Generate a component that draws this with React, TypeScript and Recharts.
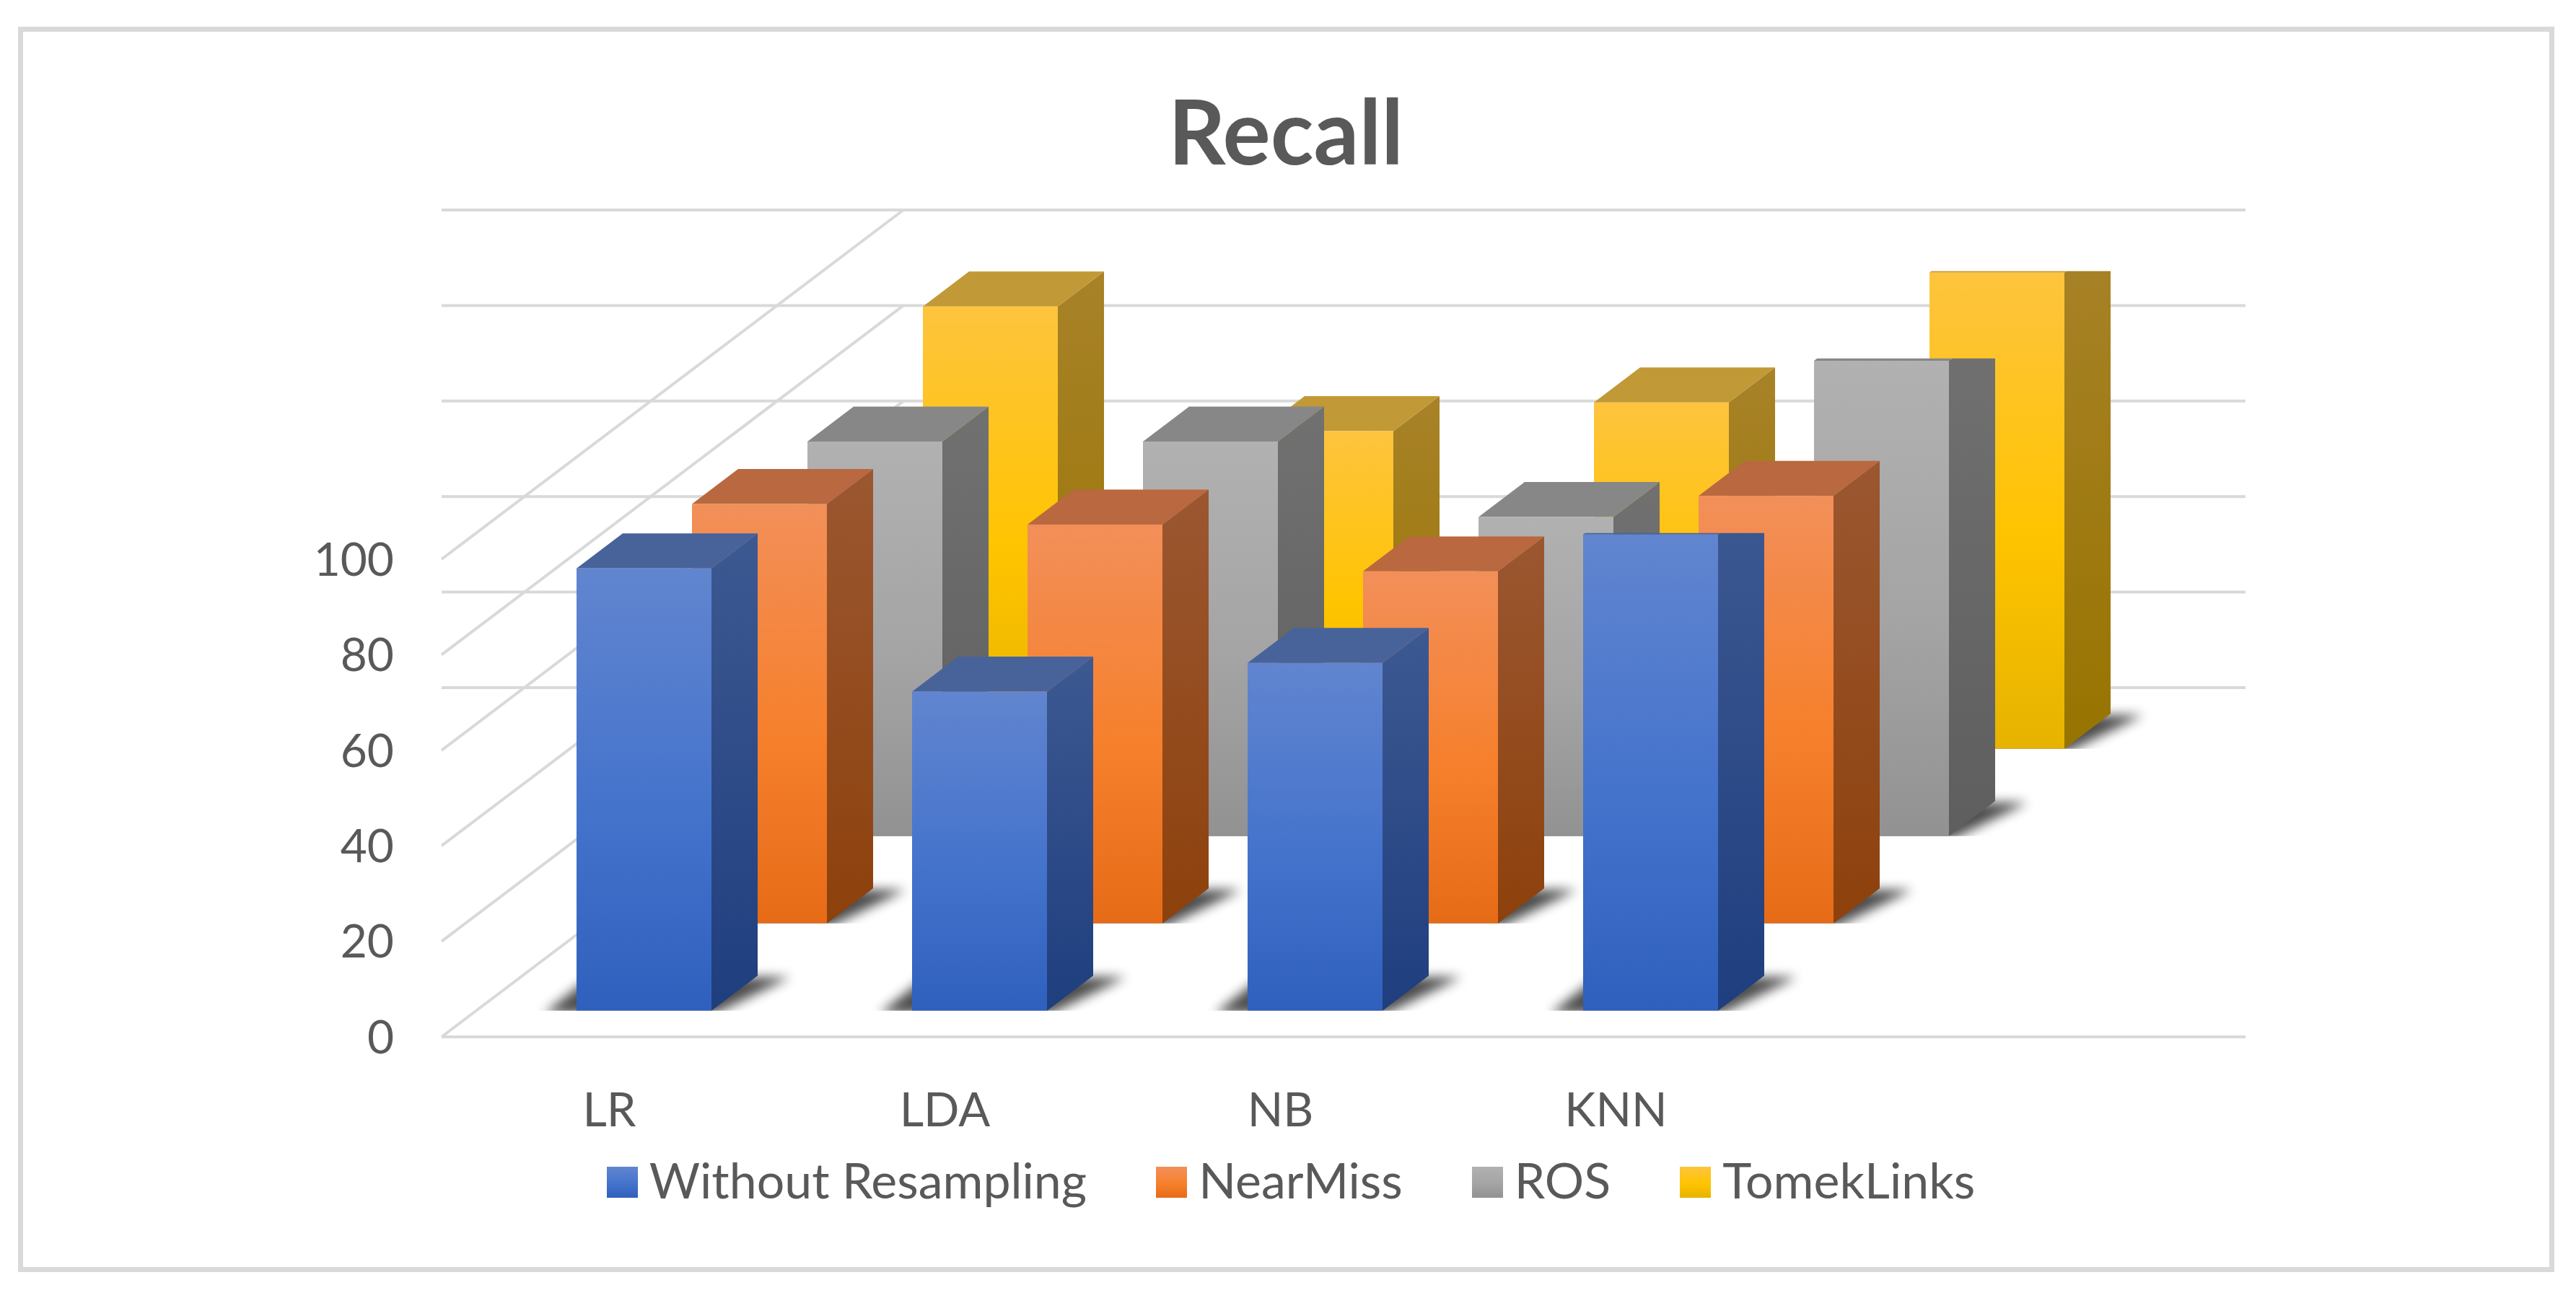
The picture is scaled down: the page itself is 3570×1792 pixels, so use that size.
import React from 'react'
import { BarChart, Bar, XAxis, YAxis, ReferenceLine } from 'recharts'

// categories + recall values (%)
const CATEGORIES = ['LR', 'LDA', 'NB', 'KNN']
const WITHOUT_RESAMPLING = [92.6, 66.8, 72.8, 99.7]
const NEAR_MISS = [87.8, 83.5, 73.7, 89.5]
const ROS = [82.6, 82.6, 66.8, 99.5]
const TOMEK_LINKS = [92.6, 66.5, 72.5, 99.7]
const Y_TICKS = [0, 20, 40, 60, 80, 100]

const FONT = 'Lato, "Open Sans", sans-serif'
const TEXT = '#595959'
const GRID = '#d9d9d9'

// series, front row first
const SERIES = [
  { key: 'without', name: 'Without Resampling', values: WITHOUT_RESAMPLING,
    front: ['#6185cf', '#4473cc', '#2f60bd'], side: ['#3d5992', '#1f3e7e'], top: '#47639a' },
  { key: 'nearmiss', name: 'NearMiss', values: NEAR_MISS,
    front: ['#f28f59', '#f6802c', '#e66b17'], side: ['#9b5731', '#8d410c'], top: '#b9683f' },
  { key: 'ros', name: 'ROS', values: ROS,
    front: ['#b1b1b1', '#a4a4a4', '#929292'], side: ['#717171', '#5e5e5e'], top: '#878787' },
  { key: 'tomek', name: 'TomekLinks', values: TOMEK_LINKS,
    front: ['#fec43e', '#ffc400', '#e6b300'], side: ['#a88228', '#977400'], top: '#c29937' },
]

const data = CATEGORIES.map((cat, i) => {
  const row: Record<string, string | number> = { cat }
  SERIES.forEach(s => { row[s.key] = s.values[i] })
  return row
})

// 3d projection of the plot box
const W = 3570, H = 1792
const PLOT = { left: 612, top: 291, right: 3112, bottom: 1437 }
const ROWS = SERIES.length
const STEP_X = 160, STEP_Y = 121        // shift per depth row
const DEPTH_X = ROWS * STEP_X, DEPTH_Y = ROWS * STEP_Y
const FRONT_W = PLOT.right - PLOT.left - DEPTH_X
const FRONT_H = PLOT.bottom - PLOT.top - DEPTH_Y
const SHEAR = 100 * DEPTH_Y / FRONT_H   // value units per full depth
const WALL_SPAN = CATEGORIES.length - 1 // numeric helper axis runs over the row indexes
const ROW_OFF = 0.3, BAR_DEPTH = 0.4
const BAR_W = 187
const Y_AXIS_W = 200, X_AXIS_H = 120

function barShape(s: typeof SERIES[number]) {
  return (p: any) => {
    const { x, y, width, height } = p
    if (width == null || height == null || isNaN(y)) return <g />
    const dx = BAR_DEPTH * STEP_X, dy = BAR_DEPTH * STEP_Y
    const r = x + width, b = y + height
    return (
      <g>
        <polygon
          points={`${x - 45},${b + 4} ${r + 5},${b + 4} ${r + dx + 45},${b - dy + 2} ${x + dx - 45},${b - dy + 2}`}
          fill="#000" opacity={0.7} filter="url(#barShadow)"
        />
        <polygon points={`${r},${y} ${r + dx},${y - dy} ${r + dx},${b - dy} ${r},${b}`} fill={`url(#side-${s.key})`} />
        <polygon points={`${x},${y} ${x + dx},${y - dy} ${r + dx},${y - dy} ${r},${y}`} fill={s.top} />
        <rect x={x} y={y} width={width} height={height} fill={`url(#front-${s.key})`} />
      </g>
    )
  }
}

export default function App() {
  const gridStyle = { stroke: GRID, strokeWidth: 4, ifOverflow: 'visible' as const, zIndex: -100 }
  return (
    <div style={{ position: 'absolute', left: 0, top: 0, width: W, height: H, background: '#fff', overflow: 'hidden', fontFamily: FONT }}>
      <div style={{ position: 'absolute', left: 25, top: 37, width: 3515, height: 1726, boxSizing: 'border-box', border: `7px solid ${GRID}` }} />

      <div style={{ position: 'absolute', left: 0, top: 106, width: 3564, textAlign: 'center', fontSize: 124, fontWeight: 700, lineHeight: 1.2, color: TEXT }}>
        Recall
      </div>

      <div style={{ position: 'absolute', left: 0, top: 0 }}>
        <BarChart
          width={W}
          height={H}
          data={data}
          margin={{ left: PLOT.left - Y_AXIS_W, top: PLOT.top, right: W - PLOT.right, bottom: H - PLOT.bottom - X_AXIS_H }}
        >
          <defs>
            <filter id="barShadow" x="-50%" y="-50%" width="200%" height="200%">
              <feGaussianBlur stdDeviation="8" />
            </filter>
            {SERIES.map(s => (
              <linearGradient key={`f${s.key}`} id={`front-${s.key}`} x1="0" y1="0" x2="0" y2="1">
                <stop offset="0%" stopColor={s.front[0]} />
                <stop offset="55%" stopColor={s.front[1]} />
                <stop offset="100%" stopColor={s.front[2]} />
              </linearGradient>
            ))}
            {SERIES.map(s => (
              <linearGradient key={`s${s.key}`} id={`side-${s.key}`} x1="0" y1="0" x2="0" y2="1">
                <stop offset="0%" stopColor={s.side[0]} />
                <stop offset="100%" stopColor={s.side[1]} />
              </linearGradient>
            ))}
          </defs>

          {/* visible front axes */}
          <XAxis xAxisId="front" dataKey="cat" padding={{ left: 0, right: DEPTH_X }} height={X_AXIS_H}
            axisLine={false} tickLine={false} tickSize={0} tickMargin={48}
            tick={{ fill: TEXT, fontSize: 65, fontFamily: FONT }} />
          <YAxis yAxisId="front" domain={[0, 100]} ticks={Y_TICKS} allowDataOverflow width={Y_AXIS_W}
            padding={{ top: DEPTH_Y, bottom: 0 }}
            axisLine={false} tickLine={false} tickSize={0} tickMargin={6}
            tick={{ fill: TEXT, fontSize: 64, fontFamily: FONT }} />

          {/* back wall + left wall helpers */}
          <XAxis xAxisId="back" dataKey="cat" hide padding={{ left: DEPTH_X, right: 0 }} />
          <YAxis yAxisId="back" hide domain={[0, 100]} allowDataOverflow padding={{ top: 0, bottom: DEPTH_Y }} />
          <XAxis xAxisId="wall" type="number" hide domain={[0, WALL_SPAN]} allowDataOverflow padding={{ left: 0, right: FRONT_W }} />

          {/* one axis pair per depth row */}
          {SERIES.map((s, i) => (
            <XAxis key={`x${s.key}`} xAxisId={s.key} dataKey="cat" hide
              padding={{ left: (i + ROW_OFF) * STEP_X, right: DEPTH_X - (i + ROW_OFF) * STEP_X }} />
          ))}
          {SERIES.map((s, i) => (
            <YAxis key={`y${s.key}`} yAxisId={s.key} hide domain={[0, 100]} allowDataOverflow
              padding={{ bottom: (i + ROW_OFF) * STEP_Y, top: DEPTH_Y - (i + ROW_OFF) * STEP_Y }} />
          ))}

          {Y_TICKS.map(v => (
            <ReferenceLine key={`b${v}`} xAxisId="back" yAxisId="back" y={v} {...gridStyle} />
          ))}
          {Y_TICKS.map(v => (
            <ReferenceLine key={`w${v}`} xAxisId="wall" yAxisId="front"
              segment={[{ x: 0, y: v }, { x: WALL_SPAN, y: v + SHEAR }]} {...gridStyle} />
          ))}
          <ReferenceLine xAxisId="front" yAxisId="front" y={0} {...gridStyle} />

          {/* back rows first so the front rows cover them */}
          {SERIES.map((s, i) => ({ s, i })).reverse().map(({ s }) => (
            <Bar key={s.key} dataKey={s.key} name={s.name} xAxisId={s.key} yAxisId={s.key}
              barSize={BAR_W} isAnimationActive={false} shape={barShape(s)} />
          ))}
        </BarChart>
      </div>

      <div style={{ position: 'absolute', left: 0, top: 1594, width: 3578, display: 'flex', justifyContent: 'center', gap: 96, fontSize: 68, lineHeight: 1.2, color: TEXT }}>
        {SERIES.map(s => (
          <div key={s.key} style={{ display: 'flex', alignItems: 'center' }}>
            <span style={{ display: 'inline-block', width: 43, height: 43, marginRight: 16, position: 'relative', top: 4,
              background: `linear-gradient(to bottom, ${s.front[0]}, ${s.front[1]} 55%, ${s.front[2]})` }} />
            <span>{s.name}</span>
          </div>
        ))}
      </div>
    </div>
  )
}
